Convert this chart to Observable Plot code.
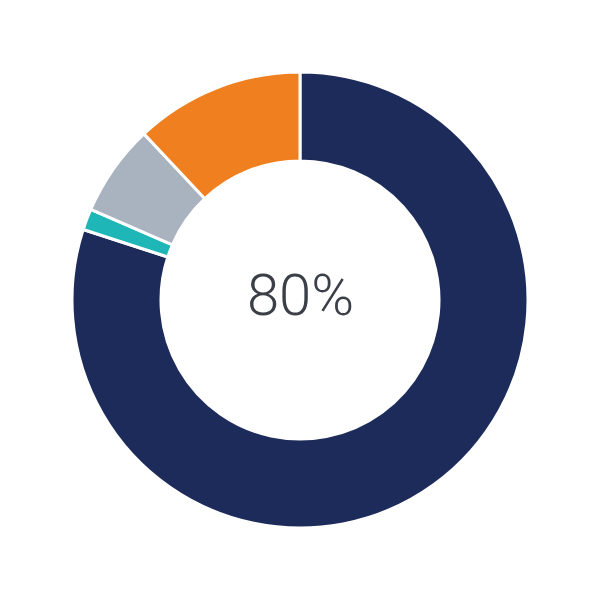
<!DOCTYPE html>
<html>
<head>
<meta charset="utf-8">
<script src="https://cdn.jsdelivr.net/npm/d3@7"></script>
<script src="https://cdn.jsdelivr.net/npm/@observablehq/plot@0.6"></script>
<style>
  html, body { margin: 0; padding: 0; background: #fff; }
  #chart { width: 600px; height: 600px; }
</style>
</head>
<body>
<div id="chart"></div>
<script>
const categories = ["Navy", "Teal", "Gray", "Orange"];
const values = [80, 1.5, 6.5, 12];
const colors = ["#1c2b5a", "#1fb6b8", "#a9b3c0", "#f07f20"];
const centerLabel = "80%";

const data = categories.map((c, i) => ({category: c, value: values[i], color: colors[i]}));

const outerR = 228, innerR = 139;

function donutMark(index, scales, vals, dims, context) {
  const svg = d3.create("svg:g");
  const cx = scales.x(0), cy = scales.y(0);
  const ro = scales.x(outerR) - scales.x(0);
  const ri = scales.x(innerR) - scales.x(0);
  const pie = d3.pie().sort(null).value(d => d.value);
  const arc = d3.arc().innerRadius(ri).outerRadius(ro);
  svg.attr("transform", `translate(${cx},${cy})`)
    .selectAll("path")
    .data(pie(data))
    .join("path")
    .attr("d", arc)
    .attr("fill", d => d.data.color)
    .attr("stroke", "#fff")
    .attr("stroke-width", 3)
    .attr("stroke-linejoin", "miter");
  return svg.node();
}

const chart = Plot.plot({
  width: 600,
  height: 600,
  margin: 0,
  x: {domain: [-300, 300], axis: null},
  y: {domain: [300, -300], axis: null},
  marks: [
    donutMark,
    Plot.text([centerLabel], {
      frameAnchor: "middle",
      text: d => d,
      fontSize: 58,
      fontWeight: 300,
      fontFamily: "Roboto, 'Helvetica Neue', sans-serif",
      fill: "#3b4048",
      dy: -4
    })
  ]
});
document.getElementById("chart").appendChild(chart);
</script>
</body>
</html>
